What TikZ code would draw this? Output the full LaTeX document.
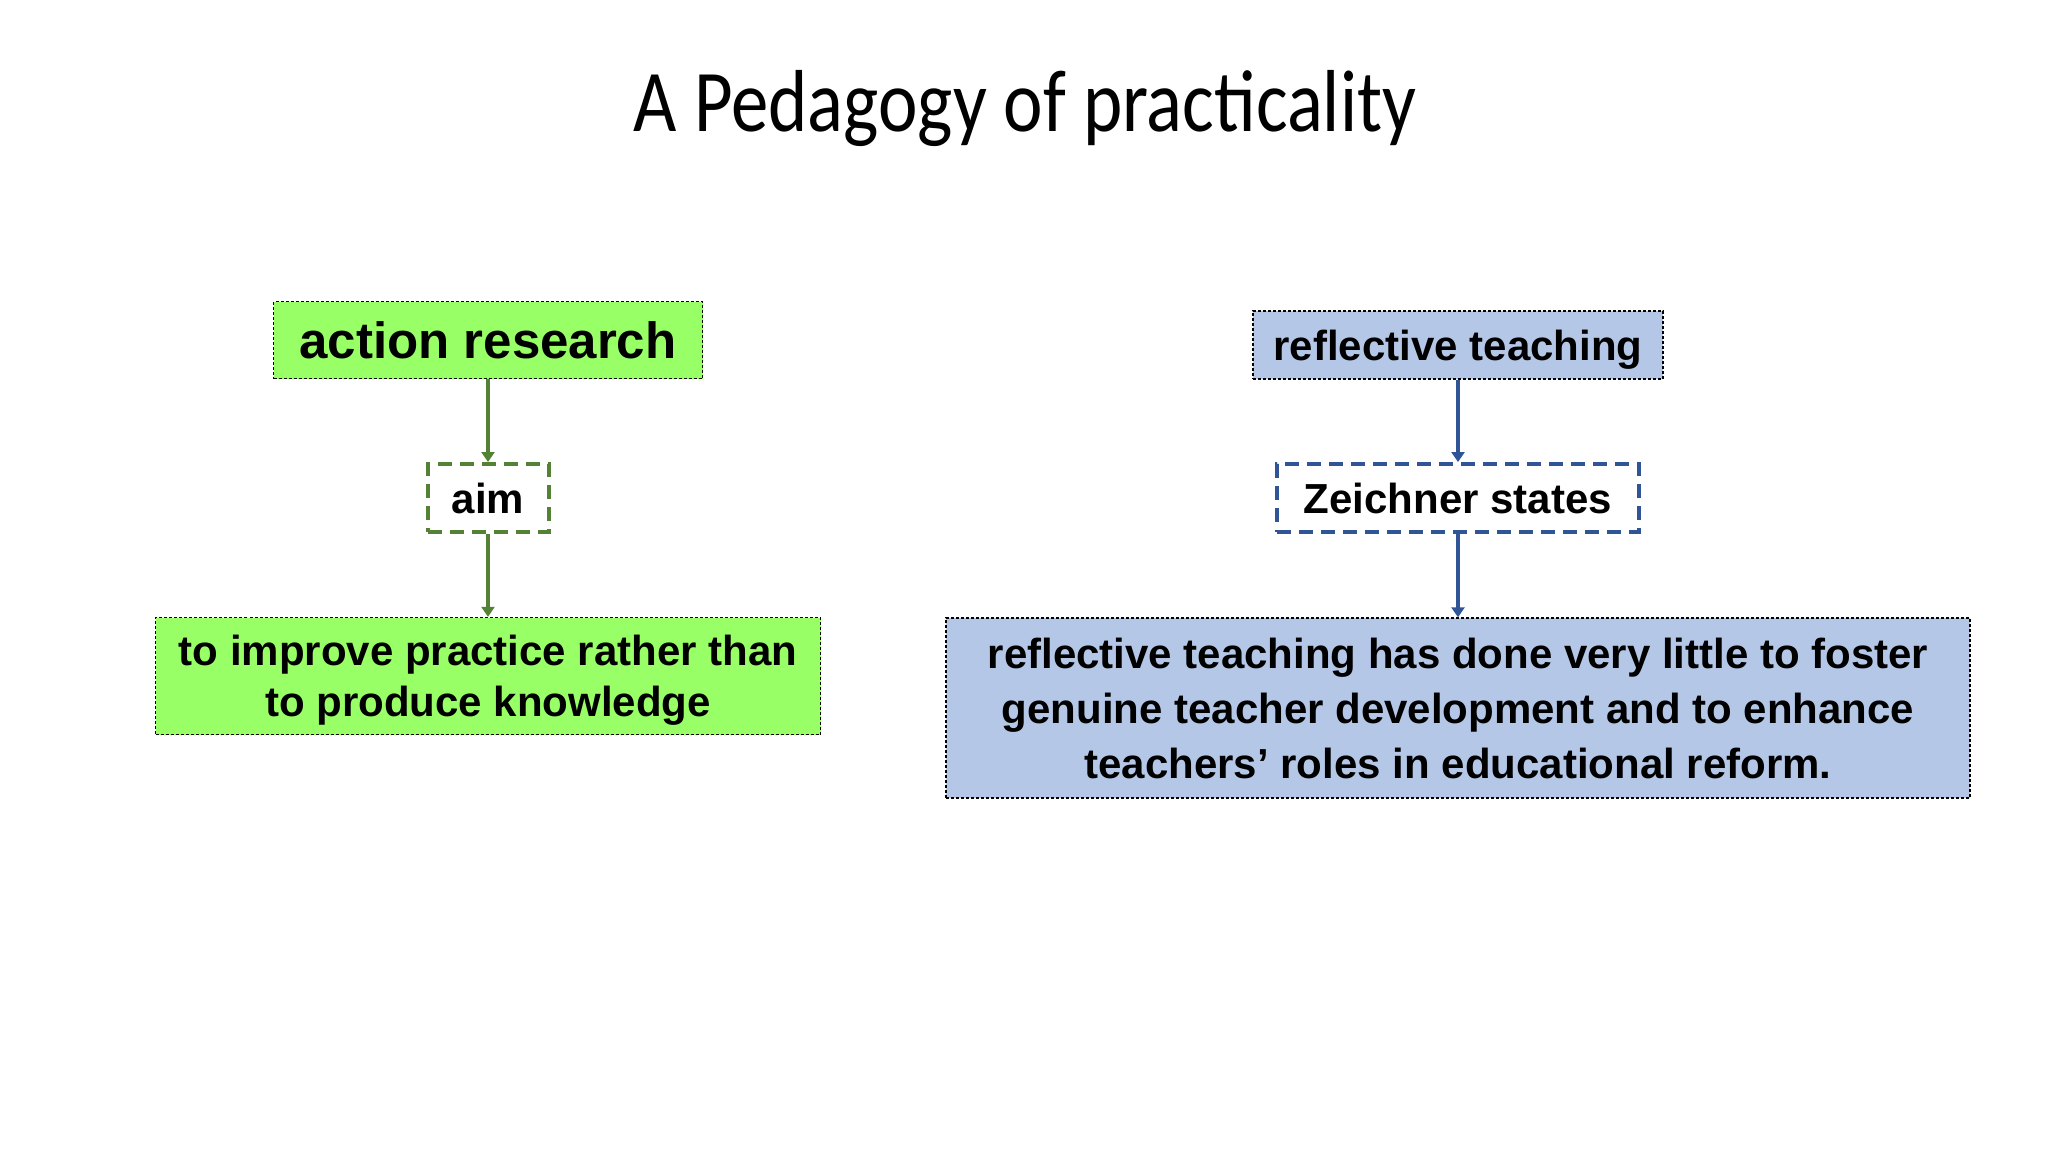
\documentclass[tikz,border=0pt]{standalone}
\usepackage{fontspec}
\setmainfont{Liberation Sans}
\newfontfamily\titlefont[FakeStretch=0.85]{Carlito}
\usetikzlibrary{arrows.meta}
\definecolor{gfill}{HTML}{99FF66}
\definecolor{gline}{HTML}{548235}
\definecolor{bfill}{HTML}{B4C7E7}
\definecolor{bline}{HTML}{2F5597}
\tikzset{
  fillbox/.style={draw=black, line width=0.7pt, dash pattern=on 1.5pt off 1pt, inner sep=0pt, align=center, font=\bfseries},
  greenbox/.style={fillbox, fill=gfill},
  bluebox/.style={fillbox, fill=bfill},
  dashbox/.style={line width=2pt, dash pattern=on 7pt off 4pt, fill=white, inner sep=0pt, align=center, font=\bfseries\fontsize{21}{25}\selectfont},
  garrow/.style={draw=gline, line width=2pt, -{Triangle[width=6.5pt,length=5pt]}},
  barrow/.style={draw=bline, line width=2pt, -{Triangle[width=6.5pt,length=5pt]}},
}
\begin{document}
\begin{tikzpicture}[x=0.5pt,y=-0.5pt]
\useasboundingbox[fill=white] (0,0) rectangle (2048,1152);
\node[anchor=base, font=\titlefont\fontsize{44}{50}\selectfont] (title) at (1025,131) {A Pedagogy of practicality};

\node[greenbox, minimum width=214.5pt, minimum height=38.5pt, font=\bfseries\fontsize{25.5}{30}\selectfont] (ar) at (488,340) {action research};
\node[dashbox, draw=gline, minimum width=60.5pt, minimum height=34pt] (aim) at (488,498) {aim};
\node[greenbox, minimum width=332.5pt, minimum height=58.5pt, font=\bfseries\fontsize{21}{25.5}\selectfont, text depth=0pt] (imp) at (488,676) {to improve practice rather than\\to produce knowledge};

\node[bluebox, minimum width=205pt, minimum height=34pt, font=\bfseries\fontsize{21}{25}\selectfont, text depth=0pt] (rt) at (1458,345) {reflective teaching};
\node[dashbox, draw=bline, minimum width=181pt, minimum height=34pt] (zs) at (1458,498) {Zeichner states};
\node[bluebox, minimum width=512pt, minimum height=90pt, font=\bfseries\fontsize{21}{27.5}\selectfont] (rtd) at (1458,708) {reflective teaching has done very little to foster\\genuine teacher development and to enhance\\teachers’ roles in educational reform.};

\draw[garrow] (ar.south) -- (aim.north);
\draw[garrow] (aim.south) -- (imp.north);
\draw[barrow] (rt.south) -- (zs.north);
\draw[barrow] (zs.south) -- (rtd.north);
\end{tikzpicture}
\end{document}
